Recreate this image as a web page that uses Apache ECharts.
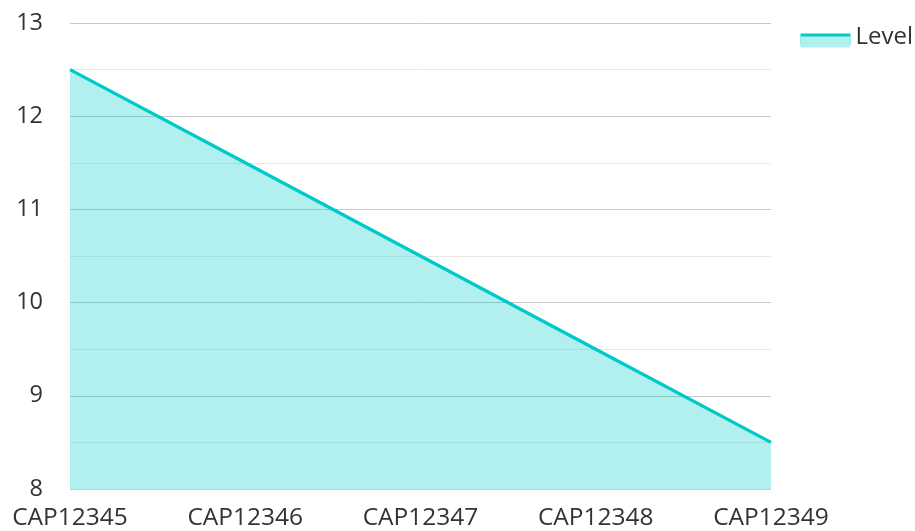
<!DOCTYPE html>
<html>
<head>
<meta charset="utf-8">
<script src="https://cdn.jsdelivr.net/npm/echarts@6/dist/echarts.min.js"></script>
<style>
  html, body { margin: 0; padding: 0; background: #fff; }
  #chart { width: 915px; height: 531px; }
</style>
</head>
<body>
<div id="chart"></div>
<script>
// Categories and the single "Level" series
const categories = ['CAP12345', 'CAP12346', 'CAP12347', 'CAP12348', 'CAP12349'];
const levelValues = [12.5, 11.5, 10.5, 9.5, 8.5];
const seriesName = 'Level';

const lineColor = '#00c9c9';
const fontFamily = '"Open Sans", "Noto Sans", sans-serif';

const chart = echarts.init(document.getElementById('chart'), null, { renderer: 'canvas' });

chart.setOption({
  animation: false,
  backgroundColor: '#ffffff',
  textStyle: { fontFamily: fontFamily },
  grid: { left: 70, right: 144, top: 23, bottom: 41, containLabel: false },
  legend: {
    data: [seriesName],
    right: 2,
    top: 25,
    padding: 0,
    icon: 'rect',
    itemWidth: 50,
    itemHeight: 11,
    itemGap: 10,
    // opaque pale fill with a cyan strip along its top edge
    itemStyle: {
      color: '#b2efef',
      shadowColor: lineColor,
      shadowBlur: 0,
      shadowOffsetX: 0,
      shadowOffsetY: -3
    },
    // the label sits a little above the swatch's centre
    formatter: '{t|{name}}',
    textStyle: {
      color: '#333333',
      fontSize: 24,
      fontFamily: fontFamily,
      rich: {
        t: {
          color: '#333333',
          fontSize: 24,
          fontFamily: fontFamily,
          padding: [0, 0, 10, 0]
        }
      }
    }
  },
  xAxis: {
    type: 'category',
    data: categories,
    boundaryGap: false,
    axisLine: { show: false },
    axisTick: { show: false },
    axisLabel: { color: '#333333', fontSize: 24.5, margin: 17, fontFamily: fontFamily },
    splitLine: { show: false }
  },
  yAxis: {
    type: 'value',
    min: 8,
    max: 13,
    interval: 1,
    axisLine: { show: false },
    axisTick: { show: false },
    axisLabel: { color: '#333333', fontSize: 23.5, margin: 27, fontFamily: fontFamily },
    splitLine: { show: true, lineStyle: { color: '#c8c8c8', width: 1 } },
    minorTick: { show: false, splitNumber: 2 },
    minorSplitLine: { show: true, lineStyle: { color: '#e8e8e8', width: 1 } }
  },
  series: [{
    name: seriesName,
    type: 'line',
    data: levelValues,
    symbol: 'none',
    lineStyle: { color: lineColor, width: 3.3 },
    itemStyle: { color: lineColor },
    areaStyle: { color: lineColor, opacity: 0.3 }
  }]
});
</script>
</body>
</html>
